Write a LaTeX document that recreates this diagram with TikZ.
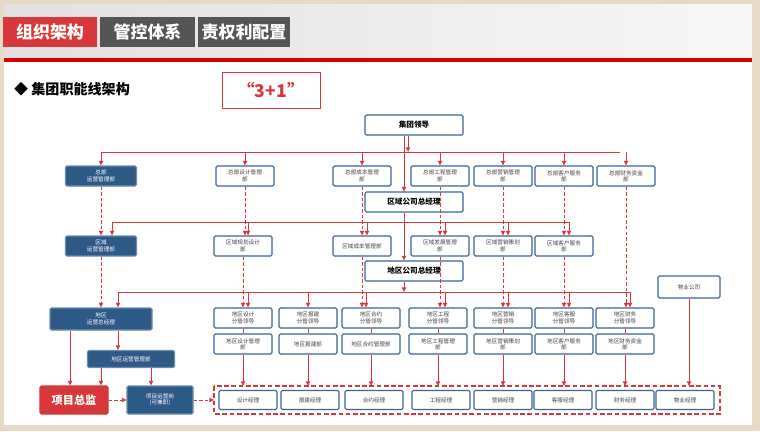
\documentclass[tikz,border=0pt]{standalone}
\usepackage{fontspec}
\setmainfont{Noto Sans CJK SC}
\usetikzlibrary{arrows.meta}
\definecolor{frame}{HTML}{E6DAC4}
\definecolor{navy}{HTML}{2E5A87}
\definecolor{edge}{HTML}{3A6596}
\definecolor{alarm}{HTML}{D9383A}
\definecolor{tabgray}{HTML}{555555}
\tikzset{
  box/.style={draw=edge,line width=0.9pt,rounded corners=1.2pt,fill=white,align=center,
    font=\fontsize{4.8}{5.4}\selectfont,text=black!75,minimum width=17.4mm,minimum height=6mm,inner sep=0.5pt},
  dbox/.style={box,fill=navy,draw=navy!70,text=white},
  head/.style={box,minimum width=29.4mm,font=\fontsize{6.5}{7}\selectfont\bfseries,text=black},
  rl/.style={draw=alarm,line width=0.8pt},
  ra/.style={rl,-{Triangle[length=1.4mm,width=1.3mm]}},
  rd/.style={ra,dash pattern=on 3pt off 1.8pt},
  tab/.style={fill=#1,text=white,font=\fontsize{14.5}{15}\selectfont\bfseries,minimum height=9mm,inner sep=0pt}
}
\begin{document}
\begin{tikzpicture}[x=0.3mm,y=-0.3mm]
  \useasboundingbox (0,0) rectangle (760,431);
  % page and header
  \fill[frame] (0,0) rectangle (760,431);
  \fill[white] (4,4) rectangle (752,425);
  \shade[left color=black!12,right color=black!3] (4,4) rectangle (752,58);
  \fill[red!85!black] (4,58) rectangle (752,62);
  \node[tab=alarm,minimum width=28.2mm] (t1) at (50,32) {组织架构};
  \node[tab=tabgray,minimum width=28.5mm] (t2) at (147.5,32) {管控体系};
  \node[tab=tabgray,minimum width=27.6mm] (t3) at (244,32) {责权利配置};
  \node[anchor=west,font=\fontsize{12}{12}\selectfont\bfseries] (ti) at (10,89) {◆ 集团职能线架构};
  \node[draw=alarm,line width=0.6pt,minimum width=29.4mm,minimum height=10.8mm,text=alarm,
    font=\fontsize{15}{15}\selectfont\bfseries] (tag) at (271,90) {“3+1”};

  % leaders
  \node[head] (jt) at (414,125) {集团领导};
  \node[head] (rg) at (414,202) {区域公司总经理};
  \node[head] (dq) at (414,271) {地区公司总经理};

  % head office
  \node[dbox,minimum width=21.3mm] (hyy) at (101,176) {总部\\运营管理部};
  \foreach \n/\x/\t in {sj/245/{总部设计管理\\部}, cb/362/{总部成本管理\\部}, gc/440/{总部工程管理\\部},
      yx/503/{总部营销管理\\部}, kf/564/{总部客户服务\\部}, cw/626/{总部财务资金\\部}}
    \node[box] (h\n) at (\x,176) {\t};

  % region
  \node[dbox,minimum width=21.3mm] (ryy) at (101,246) {区域\\运营管理部};
  \foreach \n/\x/\t in {sj/243/{区域规划设计\\部}, cb/362/{区域成本管理部}, gc/440/{区域发展管理\\部},
      yx/503/{区域营销策划\\部}, kf/564/{区域客户服务\\部}}
    \node[box] (r\n) at (\x,246) {\t};

  % district
  \node[dbox,minimum width=30.6mm,minimum height=6.6mm] (dyy) at (101,319) {地区\\运营总经理};
  \foreach \n/\x/\a/\b in {sj/243/{地区设计\\分管领导}/{地区设计管理\\部}, bj/308/{地区报建\\分管领导}/{地区报建部},
      hy/371/{地区合约\\分管领导}/{地区合约管理部}, gc/438/{地区工程\\分管领导}/{地区工程管理\\部},
      yx/503/{地区营销\\分管领导}/{地区营销策划\\部}, kf/564/{地区客服\\分管领导}/{地区客户服务\\部},
      cw/625/{地区财务\\分管领导}/{地区财务资金\\部}} {
    \node[box] (l\n) at (\x,318) {\a};
    \node[box] (d\n) at (\x,344) {\b};
    \draw[rl] (l\n) -- (d\n);
  }
  \node[box,minimum width=18.6mm,minimum height=6.6mm] (wy) at (689,287) {物业公司};

  % project level
  \node[dbox,minimum width=26.1mm,minimum height=5.1mm] (dop) at (131,359) {地区运营管理部};
  \node[dbox,fill=alarm,draw=alarm,minimum width=20.4mm,minimum height=8.4mm,
    font=\fontsize{9.5}{10}\selectfont\bfseries] (xm) at (74,400) {项目总监};
  \node[dbox,minimum width=19.8mm,minimum height=8.4mm] (xg) at (160,400) {项目运营岗\\(可兼职)};
  \draw[rl,dash pattern=on 4pt off 2.2pt,line width=1.1pt] (214,386) rectangle (720,414);
  \coordinate (pool) at (214,400);
  \foreach \n/\x/\t in {sj/248/设计经理, bj/310/报建经理, hy/374/合约经理, gc/441/工程经理,
      yx/503/营销经理, kf/563/客服经理, cw/625/财务经理, wy/685/物业经理}
    \node[box,minimum height=5.7mm] (m\n) at (\x,400) {\t};

  % group buses
  \draw[rl] (101,152) -- (620,152);
  \draw[ra] (jt.south -| 408,0) -- (408,152);
  \draw[ra] (jt.south -| 404,0) -- (rg.north -| 404,0);
  \draw[ra] (hyy.north |- 0,152) -- (hyy.north);
  \foreach \n in {sj,cb,gc,yx,kf,cw}
    \draw[ra] (h\n.north |- 0,152) -- (h\n.north);

  \draw[rl] (112,222) -- (569,222);
  \draw[ra] (rg.south -| 404,0) -- (dq.north -| 404,0);
  \draw[ra] (112,222) -- (ryy.north -| 112,0);
  \foreach \n/\x in {sj/248,cb/367,gc/445,yx/508,kf/569}
    \draw[ra] (\x,222) -- (r\n.north -| \x,0);

  \draw[rl] (118,292) -- (630,292);
  \draw[ra] (dq.south -| 404,0) -- (404,292);
  \draw[ra] (118,292) -- (dyy.north -| 118,0);
  \foreach \n/\x in {sj/248,bj/308,hy/366,gc/445,yx/508,kf/569,cw/630}
    \draw[ra] (\x,292) -- (l\n.north -| \x,0);

  % dashed function lines
  \draw[rd] (hyy) -- (ryy);
  \draw[rd] (ryy) -- (dyy.north -| ryy.south);
  \foreach \n in {sj,cb,gc,yx,kf}
    \draw[rd] (h\n.south) -- (r\n.north -| h\n.south);
  \draw[rd] (rsj.south) -- (lsj.north -| rsj.south);
  \draw[rd] (rcb.south) -- (lhy.north -| rcb.south);
  \foreach \n in {gc,yx,kf}
    \draw[rd] (r\n.south) -- (l\n.north -| r\n.south);
  \draw[rd] (hcw.south) -- (lcw.north -| hcw.south);

  % down to project managers
  \foreach \n in {sj,bj,hy,gc,yx,kf,cw}
    \draw[ra] (d\n.south) -- (d\n.south |- 0,386);
  \draw[ra] (wy.south) -- (wy.south |- 0,386);
  \draw[ra] (dyy.south -| 70,0) -- (xm.north -| 70,0);
  \draw[ra] (dyy.south -| 118,0) -- (dop.north -| 118,0);
  \draw[ra] (dop.south -| 101,0) -- (xm.north -| 101,0);
  \draw[ra] (dop.south -| 151,0) -- (xg.north -| 151,0);
  \draw[rd] (xm) -- (xg);
  \draw[rd] (xg) -- (pool);
\end{tikzpicture}
\end{document}
